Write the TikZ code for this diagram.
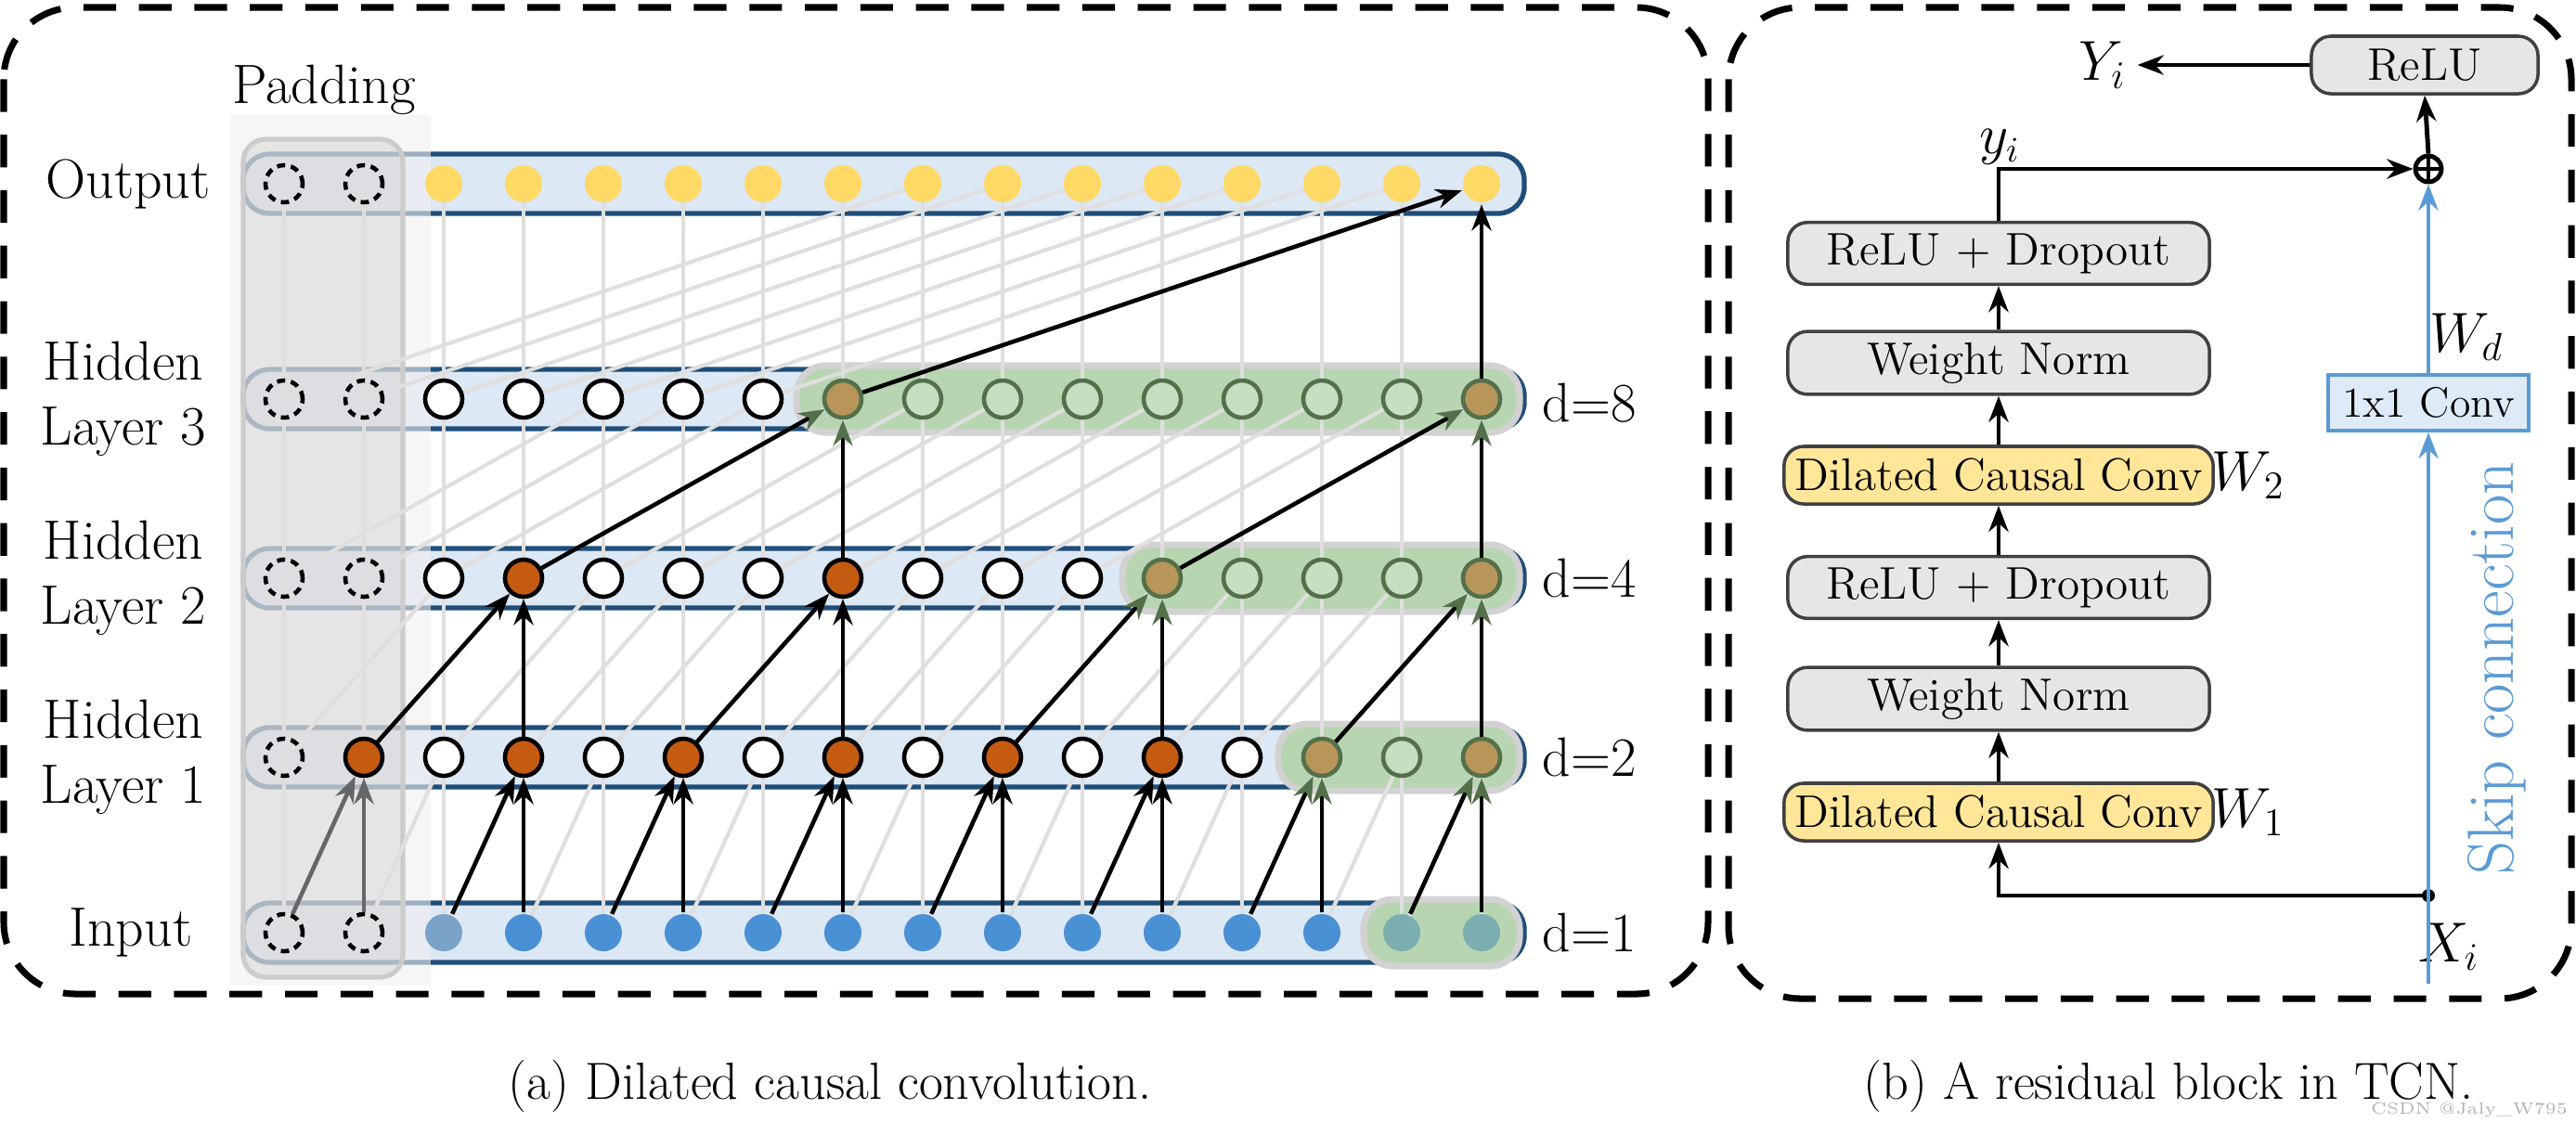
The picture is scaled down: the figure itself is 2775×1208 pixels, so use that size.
\documentclass[tikz,border=0pt]{standalone}
\usetikzlibrary{arrows.meta}
\definecolor{dblue}{HTML}{1F4E79}
\definecolor{bandc}{HTML}{DDE8F5}
\definecolor{yel}{HTML}{FFD966}
\definecolor{inb}{HTML}{4A90D4}
\definecolor{teal2}{HTML}{7AAEB0}
\definecolor{org}{HTML}{C55A11}
\definecolor{brn}{HTML}{B8965A}
\definecolor{lgr}{HTML}{C8DEC3}
\definecolor{grnbox}{HTML}{B8D5B2}
\definecolor{dgr}{HTML}{54704A}
\definecolor{skip}{HTML}{5B9BD5}
\definecolor{boxg}{HTML}{E6E6E6}
\definecolor{boxy}{HTML}{FFE699}
\begin{document}
\begin{tikzpicture}[x=0.01cm,y=-0.01cm,
  nd/.style={circle,minimum size=0.4cm,inner sep=0pt,line width=1.3pt},
  sP/.style={nd,draw=black,dashed,dash pattern=on 2.5pt off 1.8pt,fill=none},
  sW/.style={nd,draw=black,fill=white},
  sO/.style={nd,draw=black,fill=org},
  sB/.style={nd,draw=dgr,fill=brn},
  sG/.style={nd,draw=dgr,fill=lgr},
  sY/.style={nd,fill=yel},
  sI/.style={nd,fill=inb},
  sJ/.style={nd,fill=inb!70!gray!80},
  sT/.style={nd,fill=teal2},
  arr/.style={-{Stealth[length=8pt,width=6pt]},line width=1.3pt,black},
  garr/.style={-{Stealth[length=8pt,width=6pt]},line width=1.3pt,black!60},
  darr/.style={-{Stealth[length=8pt,width=6pt,color=dgr]},line width=1.3pt,black},
  faint/.style={gray!25,line width=1.2pt},
  lbl/.style={font=\fontsize{17}{20}\selectfont,align=center},
  box/.style={draw=black!75,line width=1pt,rounded corners=6pt,minimum width=4.54cm,minimum height=0.62cm,font=\fontsize{14}{16}\selectfont},
  barr/.style={-{Stealth[length=8pt,width=6pt]},line width=1.4pt,black}
]
\useasboundingbox (0,0) rectangle (2775,1208);
\draw[line width=2pt,dash pattern=on 10pt off 7pt,rounded corners=22pt] (4,8) rectangle (1840,1071);
\draw[line width=2pt,dash pattern=on 10pt off 7pt,rounded corners=22pt] (1862,8) rectangle (2770,1076);
\def\ya{1005}\def\yb{816}\def\yc{623}\def\yd{430}\def\ye{198}
\foreach \yy in {\ya,\yb,\yc,\yd,\ye}{
  \draw[fill=bandc,draw=dblue,line width=1.5pt,rounded corners=8pt] (262,\yy-32) rectangle (1642,\yy+32);
}
\fill[gray!12,opacity=0.6] (248,124) rectangle (464,1062);
\draw[fill=gray!45,fill opacity=0.35,draw=gray!40,line width=1.5pt,rounded corners=7pt] (262,150) rectangle (434,1053);
\foreach \xa/\yy in {858/\yd,1209/\yc,1377/\yb,1469/\ya}{
  \draw[fill=grnbox,draw=gray!35,line width=2pt,rounded corners=9pt] (\xa,\yy-36) rectangle (1637,\yy+36);
}
\foreach \ra/\rb/\d in {\ya/\yb/1,\yb/\yc/2,\yc/\yd/4,\yd/\ye/8}{
  \foreach \c in {0,...,15}{
    \draw[faint] (306+86*\c,\ra) -- (306+86*\c,\rb);
    \pgfmathtruncatemacro{\s}{\c-\d}
    \ifnum\s>-1 \draw[faint] (306+86*\s,\ra) -- (306+86*\c,\rb);\fi
  }
}
\foreach \c/\s in {0/sP,1/sP,2/sJ,3/sI,4/sI,5/sI,6/sI,7/sI,8/sI,9/sI,10/sI,11/sI,12/sI,13/sI,14/sT,15/sT}
  \node[\s] (a\c) at (306+86*\c,\ya) {};
\foreach \c/\s in {0/sP,1/sO,2/sW,3/sO,4/sW,5/sO,6/sW,7/sO,8/sW,9/sO,10/sW,11/sO,12/sW,13/sB,14/sG,15/sB}
  \node[\s] (b\c) at (306+86*\c,\yb) {};
\foreach \c/\s in {0/sP,1/sP,2/sW,3/sO,4/sW,5/sW,6/sW,7/sO,8/sW,9/sW,10/sW,11/sB,12/sG,13/sG,14/sG,15/sB}
  \node[\s] (c\c) at (306+86*\c,\yc) {};
\foreach \c/\s in {0/sP,1/sP,2/sW,3/sW,4/sW,5/sW,6/sW,7/sB,8/sG,9/sG,10/sG,11/sG,12/sG,13/sG,14/sG,15/sB}
  \node[\s] (d\c) at (306+86*\c,\yd) {};
\foreach \c/\s in {0/sP,1/sP,2/sY,3/sY,4/sY,5/sY,6/sY,7/sY,8/sY,9/sY,10/sY,11/sY,12/sY,13/sY,14/sY,15/sY}
  \node[\s] (e\c) at (306+86*\c,\ye) {};
\draw[garr] (a0) -- (b1); \draw[garr] (a1) -- (b1);
\foreach \c/\s in {3/2,5/4,7/6,9/8,11/10}{\draw[arr] (a\s) -- (b\c); \draw[arr] (a\c) -- (b\c);}
\foreach \c/\s in {13/12,15/14}{\draw[darr] (a\s) -- (b\c); \draw[darr] (a\c) -- (b\c);}
\foreach \c/\s in {3/1,7/5}{\draw[arr] (b\s) -- (c\c); \draw[arr] (b\c) -- (c\c);}
\foreach \c/\s in {11/9,15/13}{\draw[darr] (b\s) -- (c\c); \draw[darr] (b\c) -- (c\c);}
\foreach \c/\s in {7/3,15/11}{\draw[darr] (c\s) -- (d\c); \draw[darr] (c\c) -- (d\c);}
\draw[arr] (d7) -- (e15); \draw[arr] (d15) -- (e15);
\node[lbl] (lp) at (349,97) {Padding};
\node[lbl] (lo) at (138,198) {Output};
\node[lbl] (l3) at (133,430) {Hidden\\Layer 3};
\node[lbl] (l2) at (133,623) {Hidden\\Layer 2};
\node[lbl] (l1) at (133,816) {Hidden\\Layer 1};
\node[lbl] (li) at (141,1005) {Input};
\node[lbl] (d8) at (1712,434) {d=8};
\node[lbl] (d4) at (1712,623) {d=4};
\node[lbl] (d2) at (1712,816) {d=2};
\node[lbl] (d1) at (1712,1005) {d=1};
\node[font=\fontsize{16}{18}\selectfont] (capa) at (894,1170) {(a) Dilated causal convolution.};
\node[font=\fontsize{16}{18}\selectfont] (capb) at (2336,1170) {(b) A residual block in TCN.};
\node[font=\fontsize{5}{6}\selectfont,text=gray!60] (wm) at (2660,1196) {CSDN @Jaly\_W795};
\node[box,fill=boxg,minimum width=2.44cm] (relu) at (2612,70) {ReLU};
\node[box,fill=boxg] (rd2) at (2153,273) {ReLU + Dropout};
\node[box,fill=boxg] (wn2) at (2153,391) {Weight Norm};
\node[box,fill=boxy] (dc2) at (2153,512) {Dilated Causal Conv};
\node[box,fill=boxg] (rd1) at (2153,633) {ReLU + Dropout};
\node[box,fill=boxg] (wn1) at (2153,753) {Weight Norm};
\node[box,fill=boxy] (dc1) at (2153,875) {Dilated Causal Conv};
\node[draw=skip,fill=skip!20,line width=1pt,minimum width=2.16cm,minimum height=0.6cm,font=\fontsize{13}{15}\selectfont] (conv) at (2616,434) {1x1 Conv};
\node[circle,draw=black,line width=1.4pt,minimum size=0.28cm,inner sep=0pt] (plus) at (2616,182) {};
\draw[line width=1.2pt] (plus.north) -- (plus.south) (plus.west) -- (plus.east);
\node[font=\fontsize{18}{20}\selectfont] (Y) at (2265,70) {$Y_i$};
\node[font=\fontsize{16}{18}\selectfont] (yi) at (2154,158) {$y_i$};
\node[font=\fontsize{18}{20}\selectfont] (X) at (2638,1020) {$X_i$};
\node[font=\fontsize{18}{20}\selectfont] (W2) at (2422,512) {$W_2$};
\node[font=\fontsize{18}{20}\selectfont] (W1) at (2422,875) {$W_1$};
\node[font=\fontsize{18}{20}\selectfont] (Wd) at (2657,363) {$W_d$};
\node[font=\fontsize{20}{22}\selectfont,text=skip,rotate=90] (sk) at (2690,720) {Skip connection};
\coordinate (dot) at (2616,965);
\coordinate (bot) at (2616,1060);
\fill (dot) circle (0.07cm);
\draw[barr] (relu.west) -- (relu.west -| Y.east);
\draw[barr] (plus.north) -- (relu.south);
\draw[barr] (rd2.north) |- (plus.west);
\draw[barr] (wn2) -- (rd2);
\draw[barr] (dc2) -- (wn2);
\draw[barr] (rd1) -- (dc2);
\draw[barr] (wn1) -- (rd1);
\draw[barr] (dc1) -- (wn1);
\draw[barr] (dot) -| (dc1.south);
\draw[-{Stealth[length=8pt,width=6pt]},line width=1.4pt,skip] (bot) -- (conv.south);
\draw[-{Stealth[length=8pt,width=6pt]},line width=1.4pt,skip] (conv.north) -- (plus.south);
\end{tikzpicture}
\end{document}
